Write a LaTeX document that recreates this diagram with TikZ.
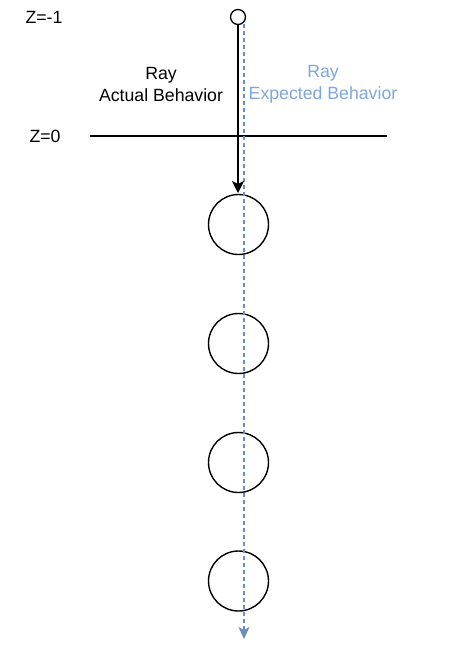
\documentclass[tikz,border=0pt]{standalone}
\usepackage{fontspec}
\setmainfont{Liberation Sans}
\usetikzlibrary{arrows.meta}
\definecolor{rayblue}{HTML}{7EA6E0}
\definecolor{dashblue}{HTML}{6C8EBF}
\begin{document}
\begin{tikzpicture}[x=1pt,y=-1pt,
  lbl/.style={font=\fontsize{17.7}{22}\selectfont, align=center, inner sep=0pt},
  ball/.style={circle, draw, line width=1.4pt, minimum size=60pt, inner sep=0pt},
  origin/.style={circle, draw, line width=1.3pt, minimum size=15pt, inner sep=0pt, fill=white}]
\useasboundingbox (0,0) rectangle (474,654);
\node[lbl] (zm1) at (44,17) {Z=-1};
\node[lbl] (z0) at (45,136) {Z=0};
\coordinate (hl) at (90,136);
\coordinate (hr) at (387,136);
\draw[line width=1.4pt] (hl) -- (hr);
\node[lbl] (act) at (161,84) {Ray\\Actual Behavior};
\node[lbl, text=rayblue] (exp) at (323,84) {Ray\\Expected Behavior};
\node[ball] (b1) at (238.5,224.5) {};
\node[ball] (b2) at (238.5,343.5) {};
\node[ball] (b3) at (238.5,462.5) {};
\node[ball] (b4) at (238.5,581) {};
\coordinate (ds) at (244,24);
\coordinate (de) at (244,639);
\draw[dashblue, line width=1.3pt, dash pattern=on 4pt off 3pt, -{Stealth[width=11pt,length=12pt,inset=3pt]}] (ds) -- (de);
\coordinate (ae) at (238,193);
\node[origin] (o) at (238,17) {};
\draw[line width=1.4pt, -{Stealth[width=12pt,length=12pt,inset=3pt]}] (o.south) -- (ae);
\end{tikzpicture}
\end{document}
